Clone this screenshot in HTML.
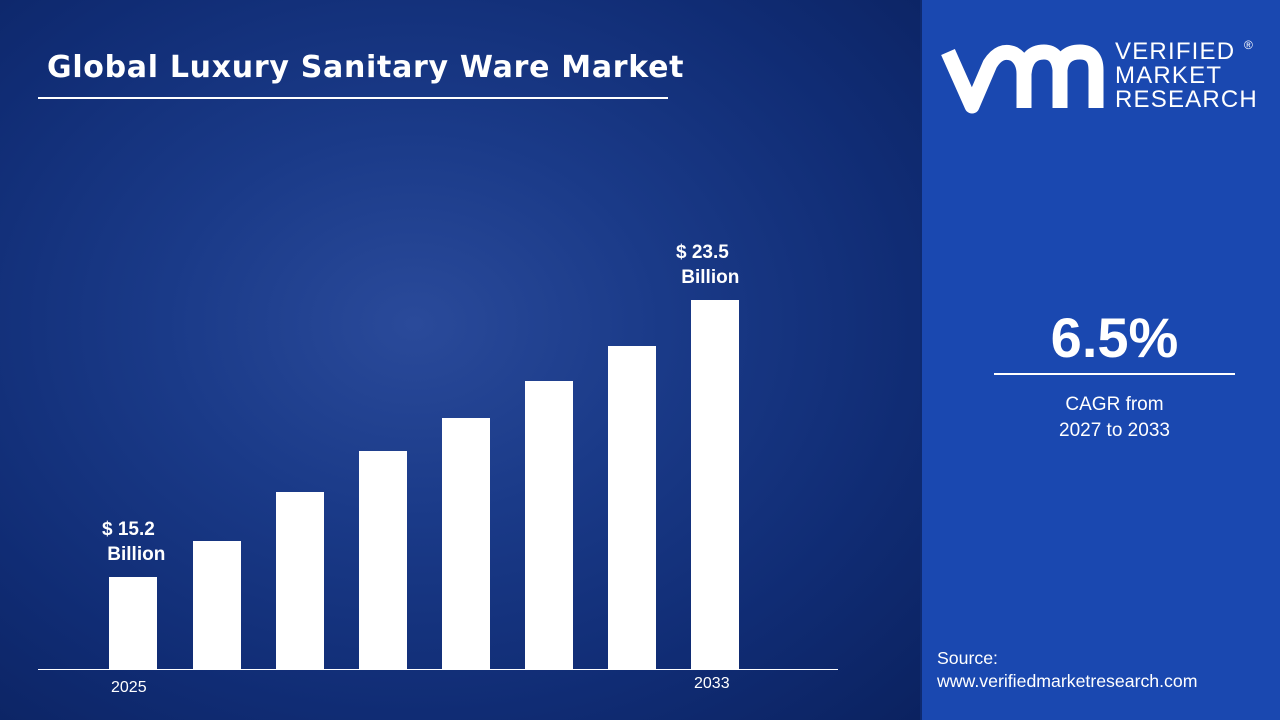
<!DOCTYPE html>
<html><head><meta charset="utf-8"><style>
*{margin:0;padding:0;box-sizing:border-box}
body{width:1280px;height:720px;overflow:hidden;position:relative;font-family:"Liberation Sans",sans-serif;background:#0e2a70}
.left{position:absolute;left:0;top:0;width:920px;height:720px;background:radial-gradient(ellipse at 45% 45%,#2a4a9a 0%,#1a3a88 35%,#102c74 70%,#0b2260 100%)}
.right{position:absolute;left:922px;top:0;width:358px;height:720px;background:#1a48b0}
.t{position:absolute;color:#fff;white-space:nowrap}
.bar{position:absolute;background:#fff;width:48px;bottom:50px}
</style></head><body>
<div class="left"></div>
<div class="right"></div>
<div class="t" style="left:47px;top:50px;font-size:30px;font-weight:bold;font-family:'DejaVu Sans',sans-serif;letter-spacing:0.7px">Global Luxury Sanitary Ware Market</div>
<div style="position:absolute;left:38px;top:97px;width:630px;height:2px;background:#fff"></div>

<div class="bar" style="left:109px;height:93px"></div>
<div class="bar" style="left:193px;height:129px"></div>
<div class="bar" style="left:276px;height:178px"></div>
<div class="bar" style="left:359px;height:219px"></div>
<div class="bar" style="left:442px;height:252px"></div>
<div class="bar" style="left:525px;height:289px"></div>
<div class="bar" style="left:608px;height:324px"></div>
<div class="bar" style="left:691px;height:370px"></div>
<div style="position:absolute;left:38px;top:669px;width:800px;height:1px;background:#fff"></div>

<div class="t" style="left:102px;top:517px;font-size:19px;font-weight:bold;line-height:25px">$ 15.2<br>&nbsp;Billion</div>
<div class="t" style="left:676px;top:240px;font-size:19px;font-weight:bold;line-height:25px">$ 23.5<br>&nbsp;Billion</div>
<div class="t" style="left:111px;top:679px;font-size:16px">2025</div>
<div class="t" style="left:694px;top:675px;font-size:16px">2033</div>

<svg style="position:absolute;left:940px;top:40px" width="170" height="75" viewBox="0 0 170 75">
<path d="M8 12 L32 66 L50 24 Q60 8 74 14 Q84 20 84 34 L84 68 M84 34 Q86 12 104 12 Q118 12 120 30 L120 68 M120 30 Q122 12 140 12 Q156 12 156 30 L156 68" fill="none" stroke="#fff" stroke-width="15" stroke-linejoin="round"/>
</svg>
<div class="t" style="left:1115px;top:40px;font-size:24px;letter-spacing:1.2px;line-height:24px">VERIFIED<br>MARKET<br>RESEARCH</div>
<div class="t" style="left:1244px;top:38px;font-size:12px">®</div>

<div class="t" style="left:994px;width:241px;text-align:center;top:305px;font-size:56px;font-weight:bold">6.5%</div>
<div style="position:absolute;left:994px;top:373px;width:241px;height:2px;background:#fff"></div>
<div class="t" style="left:994px;width:241px;text-align:center;top:392px;font-size:19px;line-height:26px">CAGR from<br>2027 to 2033</div>
<div class="t" style="left:937px;top:647px;font-size:17.7px;line-height:23px">Source:<br>www.verifiedmarketresearch.com</div>
</body></html>
